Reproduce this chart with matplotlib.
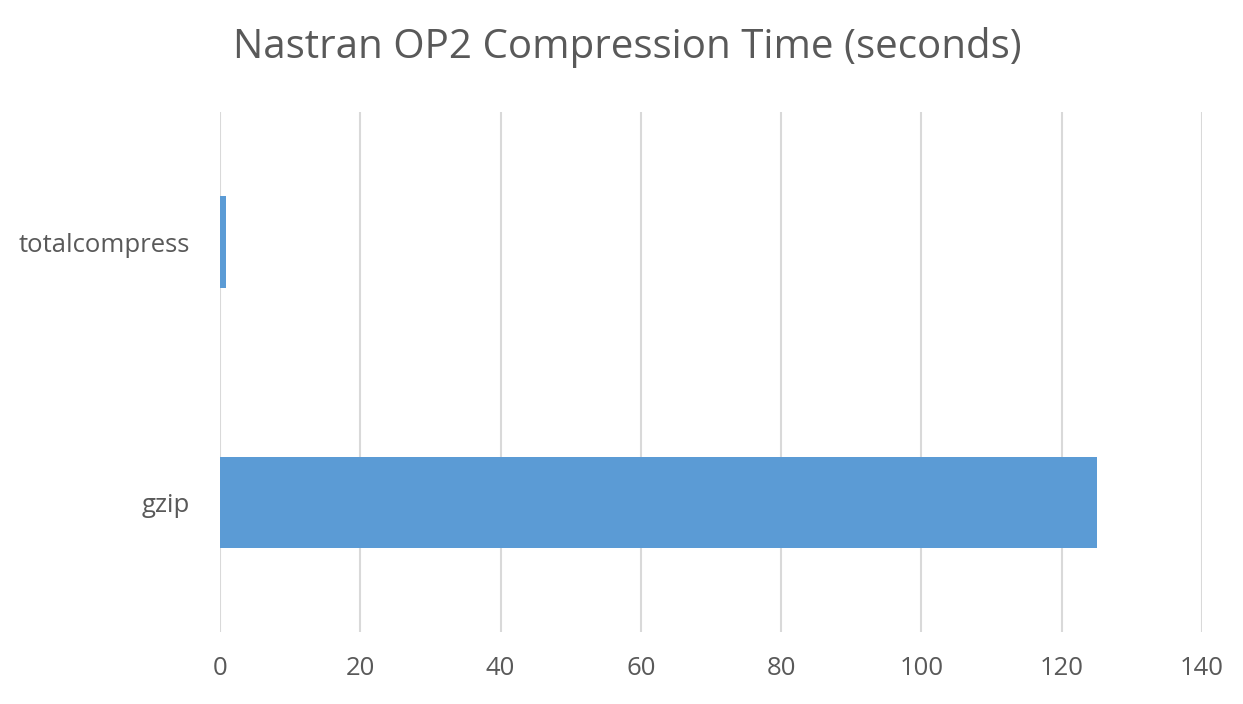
import matplotlib
matplotlib.use("Agg")
import matplotlib.pyplot as plt

categories = ["gzip", "totalcompress"]
times = [125, 0.9]

plt.rcParams['font.family'] = ['Open Sans', 'DejaVu Sans']

fig = plt.figure(figsize=(12.43, 7.04), dpi=100)
ax = fig.add_axes([0.177, 0.102, 0.79, 0.739])

ax.barh(categories, times, height=0.35, color='#5b9bd5')
ax.set_xlim(0, 140)
ax.set_ylim(-0.5, 1.5)
ax.set_xticks(range(0, 141, 20))
ax.grid(axis='x', color='#d9d9d9', linewidth=1.5)
ax.set_axisbelow(True)
for sp in ax.spines.values():
    sp.set_visible(False)
ax.tick_params(length=0, labelsize=18.5, colors='#595959')
ax.tick_params(axis='x', pad=17)
ax.tick_params(axis='y', pad=21.5)

fig.suptitle("Nastran OP2 Compression Time (seconds)", x=0.505, y=0.962,
             fontsize=29, color='#595959')

fig.savefig("out.png", dpi=100)
